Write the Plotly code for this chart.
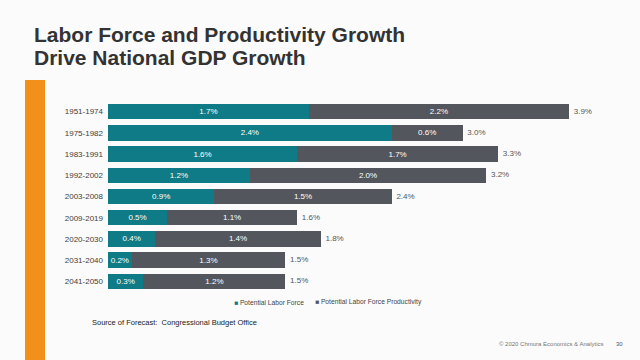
import plotly.graph_objects as go

periods = ["1951-1974", "1975-1982", "1983-1991", "1992-2002", "2003-2008",
           "2009-2019", "2020-2030", "2031-2040", "2041-2050"]
labor_force = [1.7, 2.4, 1.6, 1.2, 0.9, 0.5, 0.4, 0.2, 0.3]
productivity = [2.2, 0.6, 1.7, 2.0, 1.5, 1.1, 1.4, 1.3, 1.2]
totals = [3.9, 3.0, 3.3, 3.2, 2.4, 1.6, 1.8, 1.5, 1.5]

TEAL = "#0f7b86"
GRAY = "#53565d"
FONT = "Liberation Sans, Arial, sans-serif"
W, H = 640, 360

def px(x):
    return x / W

def py(y):
    return 1 - y / H

fig = go.Figure()
fig.add_trace(go.Bar(
    y=periods, x=labor_force, orientation="h", name="Potential Labor Force",
    marker=dict(color=TEAL, line=dict(width=0)),
    text=[f"{v:.1f}%" for v in labor_force], textposition="inside",
    insidetextanchor="middle", constraintext="none",
    textfont=dict(color="white", size=8, family=FONT), showlegend=False,
))
fig.add_trace(go.Bar(
    y=periods, x=productivity, orientation="h", name="Potential Labor Force Productivity",
    marker=dict(color=GRAY, line=dict(width=0)),
    text=[f"{v:.1f}%" for v in productivity], textposition="inside",
    insidetextanchor="middle", constraintext="none",
    textfont=dict(color="white", size=8, family=FONT), showlegend=False,
))
fig.add_trace(go.Scatter(
    y=periods, x=totals, mode="markers+text",
    marker=dict(size=6, color="rgba(0,0,0,0)"),
    text=[f"{v:.1f}%" for v in totals], textposition="middle right",
    textfont=dict(color="#555555", size=8, family=FONT), showlegend=False,
    hoverinfo="skip",
))

x_left, x_right = 108, 620
unit_px = 118.2
fig.update_layout(
    width=W, height=H,
    margin=dict(l=0, r=0, t=0, b=0),
    paper_bgcolor="#fbfbfb", plot_bgcolor="rgba(0,0,0,0)",
    barmode="stack", bargap=0.27,
    font=dict(family=FONT, color="#444444"),
    xaxis=dict(domain=[px(x_left), px(x_right)],
               range=[0, (x_right - x_left) / unit_px],
               visible=False, fixedrange=True),
    yaxis=dict(domain=[py(295), py(98)], autorange="reversed",
               showgrid=False, zeroline=False, showline=False, ticks="",
               ticklabelstandoff=4, automargin=False, fixedrange=True,
               tickfont=dict(size=8, color="#404040", family=FONT)),
)

# orange side bar
fig.add_shape(type="rect", xref="paper", yref="paper",
              x0=px(25), x1=px(45), y0=0, y1=py(80),
              fillcolor="#f39019", line=dict(width=0), layer="below")

# title
fig.add_annotation(text="<b>Labor Force and Productivity Growth</b>", xref="paper", yref="paper",
                   x=px(32), y=py(35), xanchor="left", yanchor="middle", showarrow=False,
                   font=dict(size=21, color="#333333", family=FONT))
fig.add_annotation(text="<b>Drive National GDP Growth</b>", xref="paper", yref="paper",
                   x=px(32), y=py(58), xanchor="left", yanchor="middle", showarrow=False,
                   font=dict(size=21, color="#333333", family=FONT))

# legend
fig.add_annotation(text=f'<span style="color:{TEAL}">■</span> Potential Labor Force',
                   xref="paper", yref="paper", x=px(232), y=py(302),
                   xanchor="left", yanchor="middle", showarrow=False,
                   font=dict(size=6.7, color="#444444", family=FONT))
fig.add_annotation(text=f'<span style="color:{GRAY}">■</span> Potential Labor Force Productivity',
                   xref="paper", yref="paper", x=px(313), y=py(302),
                   xanchor="left", yanchor="middle", showarrow=False,
                   font=dict(size=6.7, color="#444444", family=FONT))

# source
fig.add_annotation(text="Source of Forecast:  Congressional Budget Office",
                   xref="paper", yref="paper", x=px(90), y=py(322),
                   xanchor="left", yanchor="middle", showarrow=False,
                   font=dict(size=7.5, color="#222222", family=FONT))

# footer
fig.add_annotation(text="© 2020 Chmura Economics & Analytics",
                   xref="paper", yref="paper", x=px(605), y=py(344),
                   xanchor="right", yanchor="middle", showarrow=False,
                   font=dict(size=6, color="#777777", family=FONT))
fig.add_annotation(text="30",
                   xref="paper", yref="paper", x=px(614), y=py(344),
                   xanchor="left", yanchor="middle", showarrow=False,
                   font=dict(size=6, color="#555555", family=FONT))

fig.write_html("out.html", config={"displayModeBar": False, "staticPlot": True},
               post_script="document.body.style.margin='0';document.body.style.overflow='hidden';")
